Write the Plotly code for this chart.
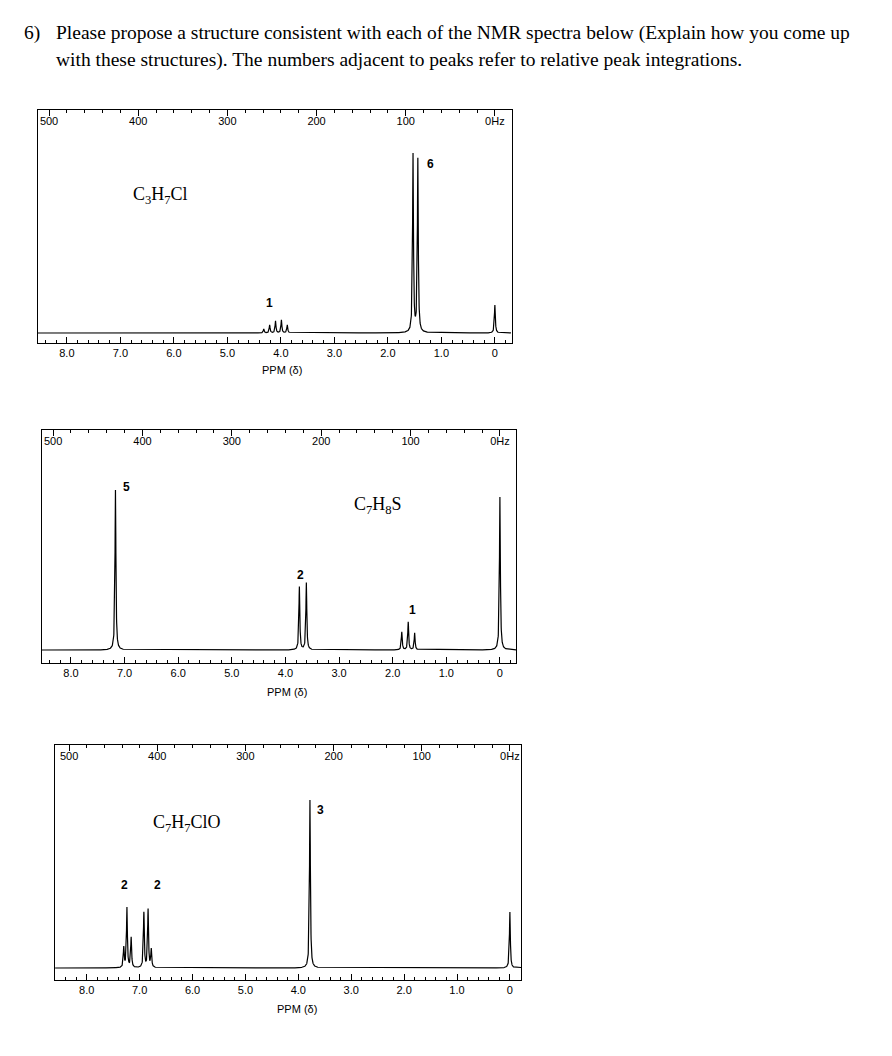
import numpy as np
import plotly.graph_objects as go

# ---- data ----
hz_ticks = [500, 400, 300, 200, 100, 0]
hz_labels = ["500", "400", "300", "200", "100", "0Hz"]
ppm_ticks = [8, 7, 6, 5, 4, 3, 2, 1, 0]
ppm_labels = ["8.0", "7.0", "6.0", "5.0", "4.0", "3.0", "2.0", "1.0", "0"]

p1_pos = [1.53, 1.44, 4.32, 4.21, 4.10, 3.99, 3.88, 0.0]
p1_hgt = [178, 173, 4, 8, 12, 13, 8, 28]
p2_pos = [7.17, 3.74, 3.61, 1.83, 1.71, 1.59, 0.0]
p2_hgt = [160, 63, 67, 18, 28, 17, 153]
p3_pos = [7.30, 7.24, 7.16, 6.92, 6.84, 6.78, 3.78, 0.0]
p3_hgt = [20, 60, 30, 55, 58, 18, 168, 56]

OFF = 8  # page margin offset
W, H = 876, 1040


def px(x):
    return (x - OFF) / W


def py(y):
    return 1 - (y - OFF) / H


panels = [
    dict(pos=p1_pos, hgt=p1_hgt, xd=[38, 512], yd=[110, 343], xr=[8.54, -0.32], yr=[-10, 223],
         formula="C<sub>3</sub>H<sub>7</sub>Cl", fpos=(160, 195), ppmlab=(282, 370),
         labels=[("1", 269, 303), ("6", 430, 164)]),
    dict(pos=p2_pos, hgt=p2_hgt, xd=[42, 516], yd=[430, 663], xr=[8.54, -0.30], yr=[-13, 220],
         formula="C<sub>7</sub>H<sub>8</sub>S", fpos=(378, 505), ppmlab=(287, 692),
         labels=[("5", 126, 487), ("2", 300, 575), ("1", 412, 610)]),
    dict(pos=p3_pos, hgt=p3_hgt, xd=[55, 521], yd=[745, 980], xr=[8.6, -0.21], yr=[-12, 223],
         formula="C<sub>7</sub>H<sub>7</sub>ClO", fpos=(187, 823), ppmlab=(297, 1009),
         labels=[("2", 124, 885), ("2", 157, 885), ("3", 320, 810)]),
]

fig = go.Figure()
grid = np.arange(-0.3, 8.6, 0.002)
hw = 0.010
layout = {}
ann = []
for i, p in enumerate(panels):
    n = i + 1
    y = np.zeros_like(grid)
    for c, h in zip(p["pos"], p["hgt"]):
        y += h * hw**2 / ((grid - c) ** 2 + hw**2)
    xa = "x" if n == 1 else f"x{n}"
    ya = "y" if n == 1 else f"y{n}"
    fig.add_trace(go.Scatter(x=grid, y=y, mode="lines", line=dict(color="black", width=1.2),
                             xaxis=xa, yaxis=ya, showlegend=False, hoverinfo="skip"))
    xd = [px(p["xd"][0]), px(p["xd"][1])]
    yd = [py(p["yd"][1]), py(p["yd"][0])]
    common = dict(range=p["xr"], showgrid=False, zeroline=False, showline=True, linecolor="black",
                  linewidth=1.2, ticks="inside", ticklen=6, tickcolor="black",
                  tickfont=dict(family="Liberation Sans Narrow, Liberation Sans", size=11, color="black"))
    layout[f"xaxis{n}" if n > 1 else "xaxis"] = dict(
        domain=xd, anchor=ya, tickvals=ppm_ticks, ticktext=ppm_labels, side="bottom",
        minor=dict(tickvals=[k / 5 for k in range(-1, 43)], ticklen=3, ticks="inside", tickcolor="black"),
        **common)
    top = n + 3
    layout[f"xaxis{top}"] = dict(
        domain=xd, anchor=ya, overlaying=xa, side="top", ticklabelposition="inside",
        tickvals=[h / 60 for h in hz_ticks], ticktext=hz_labels,
        minor=dict(tickvals=[k * 20 / 60 for k in range(0, 26)], ticklen=3, ticks="inside", tickcolor="black"),
        **common)
    layout[f"yaxis{n}" if n > 1 else "yaxis"] = dict(
        domain=yd, anchor=xa, range=p["yr"], showgrid=False, zeroline=False, showline=True,
        mirror=True, linecolor="black", linewidth=1.2, showticklabels=False, ticks="")
    fig.add_trace(go.Scatter(x=[None], y=[None], xaxis=f"x{top}", yaxis=ya, showlegend=False))
    fx, fy = p["fpos"]
    ann.append(dict(x=px(fx), y=py(fy), text=p["formula"],
                    font=dict(family="Liberation Serif", size=18, color="black")))
    qx, qy = p["ppmlab"]
    ann.append(dict(x=px(qx), y=py(qy), text="PPM (δ)",
                    font=dict(family="Liberation Sans Narrow, Liberation Sans", size=11, color="black")))
    for t, lx, ly in p["labels"]:
        ann.append(dict(x=px(lx), y=py(ly), text=f"<b>{t}</b>",
                        font=dict(family="Liberation Sans", size=12, color="black")))

serif = dict(family="Liberation Serif", size=19.5, color="black")
ann.append(dict(x=px(22), y=py(33), xanchor="left", text="6)", font=serif))
ann.append(dict(x=px(54), y=py(33), xanchor="left",
                text="Please propose a structure consistent with each of the NMR spectra below (Explain how you come up",
                font=serif))
ann.append(dict(x=px(54), y=py(60), xanchor="left",
                text="with these structures). The numbers adjacent to peaks refer to relative peak integrations.",
                font=serif))
for a in ann:
    a.update(xref="paper", yref="paper", showarrow=False, yanchor="middle")
    a.setdefault("xanchor", "center")

fig.update_layout(width=W, height=H, margin=dict(l=0, r=0, t=0, b=0), paper_bgcolor="white",
                  plot_bgcolor="white", annotations=ann, **layout)
fig.write_html("out.html")
